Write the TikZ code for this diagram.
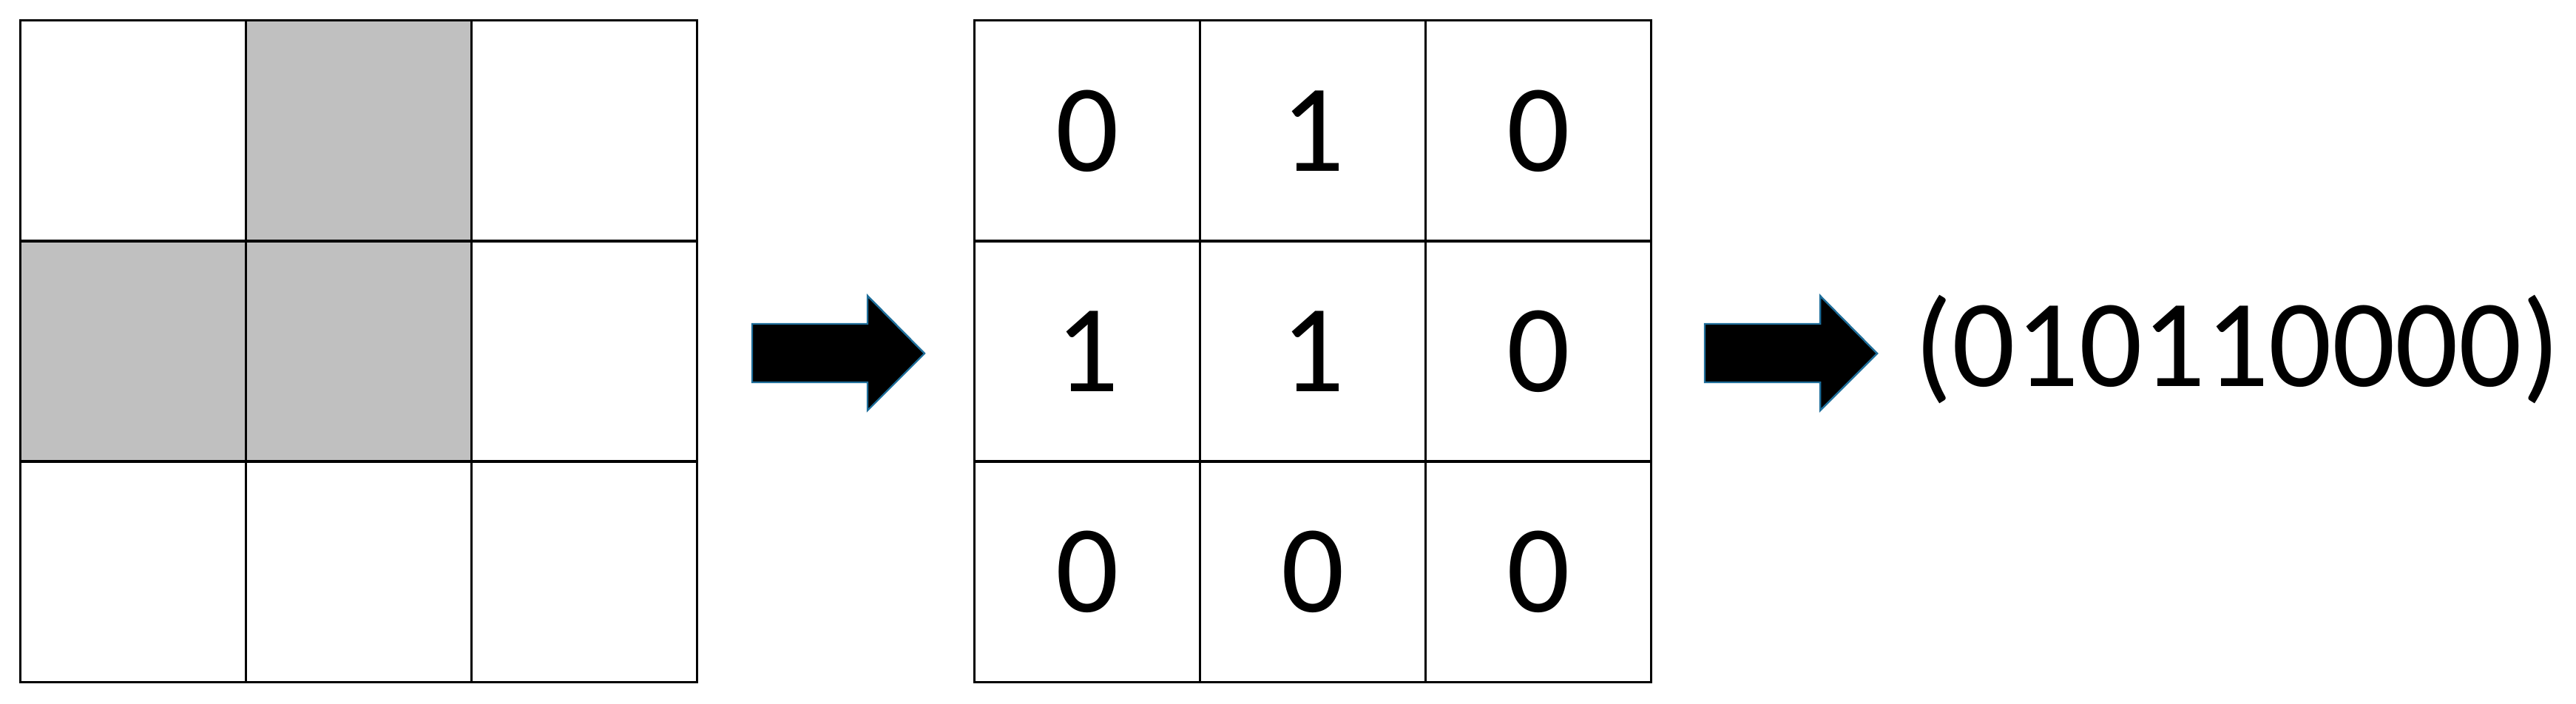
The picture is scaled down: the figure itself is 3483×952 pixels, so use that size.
\documentclass[tikz,border=0pt]{standalone}
\usepackage{fontspec}
\setmainfont{Carlito}
\definecolor{cellgray}{RGB}{192,192,192}
\definecolor{arrowedge}{RGB}{31,110,154}
\begin{document}
\begin{tikzpicture}[x=0.01cm,y=-0.01cm,
  cell/.style={draw=black, line width=0.85pt, minimum width=3.05cm, minimum height=2.98cm, inner sep=0pt, outer sep=0pt, anchor=center, font=\fontsize{48}{58}\selectfont},
  fatarrow/.style={fill=black, draw=arrowedge, line width=0.7pt, line join=miter},
  label/.style={inner sep=0pt, font=\fontsize{48}{58}\selectfont}]
\useasboundingbox (0,0) rectangle (3483,952);
% left grid
\foreach \r/\y in {1/177,2/475,3/773}{
  \foreach \c/\x in {1/180,2/485,3/790}{
    \node[cell] (L-\r-\c) at (\x,\y) {};
  }
}
\fill[cellgray] (L-1-2.north west) rectangle (L-1-2.south east);
\fill[cellgray] (L-2-1.north west) rectangle (L-2-1.south east);
\fill[cellgray] (L-2-2.north west) rectangle (L-2-2.south east);
\foreach \r in {1,2,3}{\foreach \c in {1,2,3}{\draw[line width=0.85pt] (L-\r-\c.north west) rectangle (L-\r-\c.south east);}}
% middle grid
\foreach \r/\y/\a/\b/\cc in {1/177/0/1/0,2/475/1/1/0,3/773/0/0/0}{
  \node[cell] (M-\r-1) at (1470,\y) {\a};
  \node[cell] (M-\r-2) at (1775,\y) {\b};
  \node[cell] (M-\r-3) at (2080,\y) {\cc};
}
% arrows
\coordinate (A1) at (1017,478);
\coordinate (A2) at (2305,478);
\foreach \a in {A1,A2}{
  \filldraw[fatarrow] (\a) ++(0,-40) -- ++(156,0) -- ++(0,-38) -- ++(77,78) -- ++(-77,77) -- ++(0,-38) -- ++(-156,0) -- cycle;
}
\node[label, anchor=west] (code) at (2588,472) {(010110000)};
\end{tikzpicture}
\end{document}
